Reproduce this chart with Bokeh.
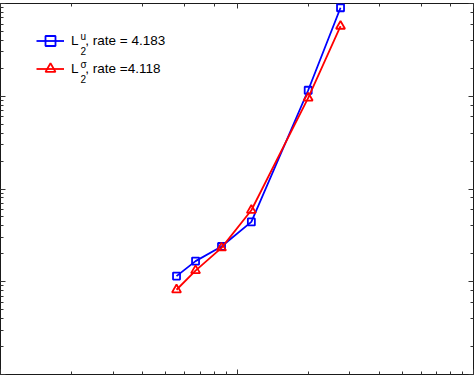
from bokeh.plotting import figure
from bokeh.models import LogAxis, Range1d, Legend, LegendItem, Label, CustomJSTickFormatter
from bokeh.embed import file_html
from bokeh.resources import INLINE

# data (log-log)
x_vals = [5.55, 6.68, 8.6, 11.5, 20.0, 27.4]
u_err = [11.5, 16.7, 24.0, 44.2, 1161, 8995]
s_err = [8.2, 13.2, 23.2, 59.0, 959, 5702]
u_label = "L\u2002, rate = 4.183"
s_label = "L\u2002, rate =4.118"

FONT = "Liberation Sans"

p = figure(width=474, height=376, x_axis_type="log", y_axis_type="log",
           x_range=Range1d(1, 100), y_range=Range1d(1, 1e4),
           output_backend="svg", toolbar_location=None,
           min_border_left=0, min_border_right=1, min_border_top=3, min_border_bottom=2,
           background_fill_color="white", border_fill_color="white")
p.outline_line_color = "#1a1a1a"
p.outline_line_width = 1
p.grid.visible = False

p.add_layout(LogAxis(), "above")
p.add_layout(LogAxis(), "right")
for ax in p.axis:
    ax.formatter = CustomJSTickFormatter(code="return '';")
    ax.major_label_text_font_size = "1px"
    ax.major_label_standoff = 0
    ax.major_tick_in = 5
    ax.major_tick_out = 0
    ax.minor_tick_in = 3
    ax.minor_tick_out = 0
    ax.axis_line_color = None
    ax.major_tick_line_color = "#333333"
    ax.minor_tick_line_color = "#333333"

bl = p.line(x_vals, u_err, line_color="blue", line_width=1.8)
bs = p.scatter(x_vals, u_err, marker="square", size=7, fill_color=None,
               line_color="blue", line_width=1.8)
rl = p.line(x_vals, s_err, line_color="red", line_width=1.8)
rs = p.scatter(x_vals, s_err, marker="triangle", size=9, fill_color=None,
               line_color="red", line_width=1.8)

legend = Legend(items=[LegendItem(label=u_label, renderers=[bl, bs]),
                       LegendItem(label=s_label, renderers=[rl, rs])],
                location=(36, 293), margin=0, padding=0, spacing=3,
                glyph_width=28, glyph_height=25, label_height=25,
                label_standoff=7, border_line_color=None,
                background_fill_alpha=0,
                label_text_font=FONT, label_text_font_size="13.5px",
                label_text_color="black")
p.add_layout(legend)

for txt, xs, ys in [("u", 80, 333), ("2", 80, 320), ("\u03c3", 80, 305), ("2", 80, 292)]:
    p.add_layout(Label(x=xs, y=ys, x_units="screen", y_units="screen", text=txt,
                       text_font=FONT, text_font_size="10px", text_color="black"))

open("out.html", "w").write(file_html(p, INLINE))
